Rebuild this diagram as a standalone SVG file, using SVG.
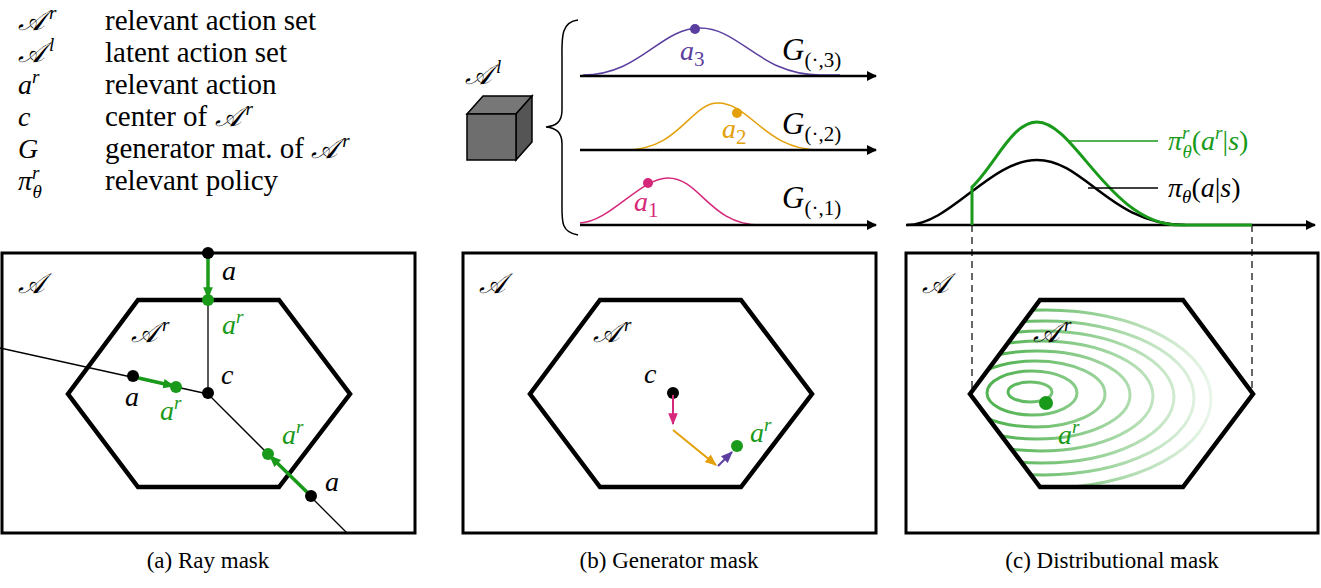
<svg xmlns="http://www.w3.org/2000/svg" width="1321" height="588" viewBox="0 0 1321 588">
<style>
text{font-family:"Liberation Serif","Times New Roman",serif;font-size:25px;fill:#000}
.lg{font-size:29px}
.m{font-style:italic;font-size:28px}
.g{fill:#1a9a1a}
.cap{font-size:23px;text-anchor:middle}
.box{fill:none;stroke:#000;stroke-width:3}
.hex{fill:none;stroke:#000;stroke-width:4.5;stroke-linejoin:miter}
.thin{fill:none;stroke:#000;stroke-width:1.3}
.ax{fill:none;stroke:#000;stroke-width:2.5}
.s{font-size:19px}
</style>
<defs>
<marker id="ahb" viewBox="0 0 10 10" refX="9" refY="5" markerWidth="12" markerHeight="10" orient="auto" markerUnits="userSpaceOnUse"><path d="M0,0 L10,5 L0,10 z" fill="#000"/></marker>
<marker id="ahg" viewBox="0 0 10 10" refX="9" refY="5" markerWidth="12" markerHeight="12" orient="auto" markerUnits="userSpaceOnUse"><path d="M0,1 L10,5 L0,9 z" fill="#1a9a1a"/></marker>
<marker id="ahp" viewBox="0 0 10 10" refX="9" refY="5" markerWidth="12" markerHeight="12" orient="auto" markerUnits="userSpaceOnUse"><path d="M0,1 L10,5 L0,9 z" fill="#d6287a"/></marker>
<marker id="aho" viewBox="0 0 10 10" refX="9" refY="5" markerWidth="12" markerHeight="12" orient="auto" markerUnits="userSpaceOnUse"><path d="M0,1 L10,5 L0,9 z" fill="#e3a008"/></marker>
<marker id="ahv" viewBox="0 0 10 10" refX="9" refY="5" markerWidth="12" markerHeight="12" orient="auto" markerUnits="userSpaceOnUse"><path d="M0,1 L10,5 L0,9 z" fill="#5b3fa0"/></marker>
<clipPath id="hc"><polygon points="1040,300 1183,300 1253,394 1183,487 1040,487 970,394"/></clipPath>
<linearGradient id="fade" gradientUnits="userSpaceOnUse" x1="1000" y1="0" x2="1215" y2="0"><stop offset="0" stop-color="#1a9a1a" stop-opacity="0.75"/><stop offset="1" stop-color="#1a9a1a" stop-opacity="0.08"/></linearGradient>
</defs>

<g id="legend">
<text x="18" y="30" class="m">𝒜<tspan class="s" dx="5" dy="-11">r</tspan></text><text x="105" y="30" class="lg">relevant action set</text>
<text x="18" y="62" class="m">𝒜<tspan class="s" dx="5" dy="-11">l</tspan></text><text x="105" y="62" class="lg">latent action set</text>
<text x="18" y="94" class="m">a<tspan class="s" dy="-11">r</tspan></text><text x="105" y="94" class="lg">relevant action</text>
<text x="18" y="126" class="m">c</text><text x="105" y="126" class="lg">center of <tspan class="m">𝒜</tspan><tspan class="m s" dx="5" dy="-11">r</tspan></text>
<text x="18" y="158" class="m">G</text><text x="105" y="158" class="lg">generator mat. of <tspan class="m">𝒜</tspan><tspan class="m s" dx="5" dy="-11">r</tspan></text>
<text x="18" y="190" class="m">π<tspan class="s" dy="-11">r</tspan><tspan class="s" dx="-7" dy="19">θ</tspan></text><text x="105" y="190" class="lg">relevant policy</text>
</g>

<g id="panel-a">
<rect class="box" x="2" y="253" width="413" height="280"/>
<polygon class="hex" points="138,300 279,300 350,394 279,487 138,487 68,394"/>
<line class="thin" x1="208" y1="300" x2="208" y2="394"/>
<line class="thin" x1="0" y1="348" x2="208" y2="394"/>
<line class="thin" x1="208" y1="394" x2="347" y2="533"/>
<text x="18" y="293" class="m">𝒜</text>
<text x="131" y="342" class="m">𝒜<tspan class="s" dx="5" dy="-11">r</tspan></text>
<text x="222" y="280" class="m">a</text>
<text x="222" y="334" class="m g">a<tspan class="s" dy="-11">r</tspan></text>
<text x="221" y="384" class="m">c</text>
<text x="125" y="406" class="m">a</text>
<text x="160" y="420" class="m g">a<tspan class="s" dy="-11">r</tspan></text>
<text x="282" y="444" class="m g">a<tspan class="s" dy="-11">r</tspan></text>
<text x="325" y="491" class="m">a</text>
</g>

<g id="panel-b">
<rect class="box" x="463" y="253" width="413" height="280"/>
<polygon class="hex" points="600,300 741,300 812,394 741,487 600,487 530,394"/>
<text x="479" y="293" class="m">𝒜</text>
<text x="593" y="342" class="m">𝒜<tspan class="s" dx="5" dy="-11">r</tspan></text>
<text x="644" y="383" class="m">c</text>
<text x="750" y="442" class="m g">a<tspan class="s" dy="-11">r</tspan></text>
<circle cx="737" cy="446" r="6" fill="#1a9a1a"/>
<circle cx="673" cy="393" r="6" fill="#000"/>
</g>

<g id="panel-b-top">
<text x="465" y="84" class="m">𝒜<tspan class="s" dx="5" dy="-11">l</tspan></text>
<polygon points="467,114 483,96 532,96 516,114" fill="#777" stroke="#000" stroke-width="1.5"/>
<polygon points="516,114 532,96 532,142 516,160" fill="#555" stroke="#000" stroke-width="1.5"/>
<rect x="467" y="114" width="49" height="46" fill="#6e6e6e" stroke="#000" stroke-width="1.5"/>
<path d="M578,20 C560,22 562,40 562,60 L562,110 C562,122 556,126 546,127 C556,128 562,132 562,144 L562,200 C562,220 560,232 578,235" fill="none" stroke="#000" stroke-width="1.5"/>
<path d="M583,75 C640,75 660,28 700,28 C740,28 760,75 820,75 L840,75" fill="none" stroke="#5b3fa0" stroke-width="1.5"/>
<path d="M583,150 L625,150 C680,150 690,103 718,103 C750,103 765,150 820,150 L840,150" fill="none" stroke="#e3a008" stroke-width="1.5"/>
<path d="M580,223 C610,222 640,178 668,178 C700,178 710,225 760,225 L840,225" fill="none" stroke="#d6287a" stroke-width="1.5"/>
<line class="ax" x1="580" y1="76" x2="876" y2="76" marker-end="url(#ahb)"/>
<line class="ax" x1="580" y1="150" x2="876" y2="150" marker-end="url(#ahb)"/>
<line class="ax" x1="580" y1="225" x2="876" y2="225" marker-end="url(#ahb)"/>
<circle cx="695" cy="29" r="5" fill="#5b3fa0"/>
<circle cx="737" cy="113" r="5" fill="#e3a008"/>
<circle cx="648" cy="183" r="5" fill="#d6287a"/>
<text x="680" y="60" class="m" style="fill:#5b3fa0">a<tspan font-size="21" dy="6" font-style="normal">3</tspan></text>
<text x="722" y="138" class="m" style="fill:#e3a008">a<tspan font-size="21" dy="6" font-style="normal">2</tspan></text>
<text x="634" y="211" class="m" style="fill:#d6287a">a<tspan font-size="21" dy="6" font-style="normal">1</tspan></text>
<text x="782" y="60" class="m" style="font-size:31px">G<tspan font-size="21" dy="7" font-style="normal">(·,3)</tspan></text>
<text x="782" y="134" class="m" style="font-size:31px">G<tspan font-size="21" dy="7" font-style="normal">(·,2)</tspan></text>
<text x="782" y="208" class="m" style="font-size:31px">G<tspan font-size="21" dy="7" font-style="normal">(·,1)</tspan></text>
</g>

<g id="panel-c">
<rect class="box" x="906" y="253" width="412" height="280"/>
<g clip-path="url(#hc)" fill="none" stroke="url(#fade)" stroke-width="3">
<ellipse cx="1030" cy="392" rx="22" ry="10"/>
<ellipse cx="1032" cy="393" rx="45" ry="22"/>
<ellipse cx="1035" cy="394" rx="70" ry="33"/>
<ellipse cx="1037" cy="395" rx="93" ry="44"/>
<ellipse cx="1040" cy="396" rx="113" ry="55"/>
<ellipse cx="1042" cy="397" rx="132" ry="66"/>
<ellipse cx="1044" cy="398" rx="150" ry="77"/>
<ellipse cx="1046" cy="399" rx="165" ry="89"/>
</g>
<polygon class="hex" points="1040,300 1183,300 1253,394 1183,487 1040,487 970,394"/>
<circle cx="1046" cy="403" r="7" fill="#1a9a1a"/>
<text x="922" y="293" class="m">𝒜</text>
<text x="1033" y="342" class="m">𝒜<tspan class="s" dx="5" dy="-11">r</tspan></text>
<text x="1058" y="444" class="m g">a<tspan class="s" dy="-11">r</tspan></text>
<line x1="972" y1="225" x2="972" y2="394" stroke="#000" stroke-width="1.2" stroke-dasharray="7,5"/>
<line x1="1252" y1="225" x2="1252" y2="394" stroke="#000" stroke-width="1.2" stroke-dasharray="7,5"/>
<line class="ax" x1="906" y1="225" x2="1315" y2="225" marker-end="url(#ahb)"/>
<path d="M907,225 C950,225 990,160 1037,160 C1085,160 1110,225 1185,225" fill="none" stroke="#000" stroke-width="2.5"/>
<path d="M972,225 L972,187 C995,165 1012,122 1037,122 C1075,122 1110,225 1180,225 L1252,225" fill="none" stroke="#1a9a1a" stroke-width="3"/>
<line x1="1068" y1="141" x2="1158" y2="141" stroke="#1a9a1a" stroke-width="1.5"/>
<line x1="1088" y1="188" x2="1158" y2="188" stroke="#000" stroke-width="1.5"/>
<text x="1168" y="150" class="m g">π<tspan class="s" dy="-11">r</tspan><tspan class="s" dx="-7" dy="19">θ</tspan><tspan dy="-8" font-style="normal">(</tspan>a<tspan class="s" dy="-11">r</tspan><tspan dy="11" font-style="normal">|</tspan>s<tspan font-style="normal">)</tspan></text>
<text x="1168" y="197" class="m">π<tspan class="s" dy="6">θ</tspan><tspan dy="-6" font-style="normal">(</tspan>a<tspan font-style="normal">|</tspan>s<tspan font-style="normal">)</tspan></text>
</g>

<g id="connectors">
<line x1="208" y1="253" x2="208" y2="298" stroke="#1a9a1a" stroke-width="3.5" marker-end="url(#ahg)"/>
<line x1="134" y1="377" x2="174" y2="386" stroke="#1a9a1a" stroke-width="3.5" marker-end="url(#ahg)"/>
<line x1="311" y1="496" x2="270" y2="456" stroke="#1a9a1a" stroke-width="3.5" marker-end="url(#ahg)"/>
<circle cx="208" cy="253" r="6" fill="#000"/>
<circle cx="208" cy="300" r="6" fill="#1a9a1a"/>
<circle cx="133" cy="376" r="6" fill="#000"/>
<circle cx="176" cy="387" r="6" fill="#1a9a1a"/>
<circle cx="208" cy="393" r="6" fill="#000"/>
<circle cx="268" cy="454" r="6" fill="#1a9a1a"/>
<circle cx="311" cy="496" r="6" fill="#000"/>
<line x1="673" y1="395" x2="673" y2="424" stroke="#d6287a" stroke-width="2" marker-end="url(#ahp)"/>
<line x1="673" y1="430" x2="716" y2="465" stroke="#e3a008" stroke-width="2" marker-end="url(#aho)"/>
<line x1="718" y1="466" x2="732" y2="452" stroke="#5b3fa0" stroke-width="2" marker-end="url(#ahv)"/>
</g>

<g id="captions">
<text x="208" y="568" class="cap">(a) Ray mask</text>
<text x="669" y="568" class="cap">(b) Generator mask</text>
<text x="1112" y="568" class="cap">(c) Distributional mask</text>
</g>
</svg>
